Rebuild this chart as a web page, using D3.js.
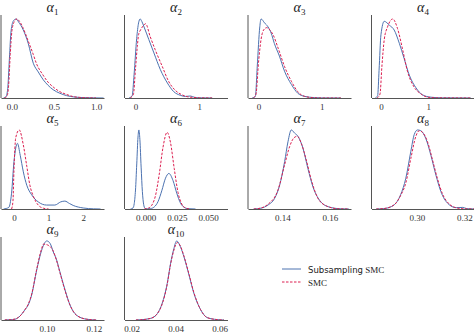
<!DOCTYPE html>
<html><head><meta charset="utf-8">
<script src="https://cdn.jsdelivr.net/npm/d3@7"></script>
<style>body{margin:0;background:#fff}svg{display:block}.serif{font-family:"Liberation Serif","DejaVu Serif",serif}</style>
</head><body><svg id="c" width="474" height="334"></svg>
<script>
// ---- data ----
const panelIndex = [1,2,3,4,5,6,7,8,9,10];
const xDomains = [[-0.13,1.095],[-0.17,1.44],[-0.166,1.46],[-0.2,1.98],[-0.375,2.6],[-0.0168,0.0656],[0.1256,0.1689],[0.281,0.3242],[0.0804,0.1243],[0.0168,0.0636]];
const tickValues = [[0,0.5,1.0],[0,1],[0,1],[0,1],[0,1,2],[0,0.025,0.05],[0.14,0.16],[0.30,0.32],[0.10,0.12],[0.02,0.04,0.06]];
const tickFormats = [".1f","d","d","d","d",".3f",".2f",".2f",".2f",".2f"];
const seriesNames = ["Subsampling SMC","SMC"];

const sub1 = [[-0.10,0],[-0.07,0.02],[-0.05,0.12],[-0.03,0.5],[-0.01,0.85],[0.02,0.98],[0.05,1.0],[0.08,0.96],[0.135,0.86],[0.194,0.69],[0.254,0.44],[0.313,0.33],[0.373,0.23],[0.43,0.16],[0.49,0.105],[0.57,0.06],[0.65,0.03],[0.75,0.012],[0.85,0.005],[1.0,0.001],[1.09,0]];
const smc1 = [[-0.09,0],[-0.06,0.02],[-0.04,0.15],[-0.02,0.55],[0.0,0.85],[0.03,0.97],[0.06,1.0],[0.09,0.97],[0.135,0.88],[0.194,0.72],[0.254,0.55],[0.29,0.44],[0.37,0.29],[0.43,0.2],[0.49,0.14],[0.57,0.08],[0.65,0.045],[0.72,0.02],[0.8,0.008],[0.9,0.002],[1.0,0]];
const sub2 = [[-0.1,0],[-0.05,0.03],[-0.02,0.3],[0.02,0.75],[0.05,0.95],[0.075,1.0],[0.1,0.97],[0.135,0.9],[0.21,0.74],[0.29,0.57],[0.39,0.36],[0.5,0.19],[0.6,0.08],[0.7,0.035],[0.78,0.02],[0.86,0.025],[0.92,0.01],[1.0,0.002],[1.2,0]];
const smc2 = [[-0.08,0],[-0.03,0.05],[0.0,0.35],[0.03,0.65],[0.05,0.8],[0.08,0.86],[0.12,0.91],[0.16,0.94],[0.23,0.78],[0.31,0.61],[0.42,0.4],[0.52,0.21],[0.62,0.1],[0.73,0.04],[0.82,0.015],[0.9,0.008],[1.0,0.002],[1.2,0]];
const sub3 = [[-0.1,0],[-0.05,0.02],[-0.02,0.4],[0.02,0.9],[0.04,1.0],[0.095,0.95],[0.15,0.9],[0.2,0.82],[0.25,0.69],[0.33,0.53],[0.41,0.34],[0.52,0.17],[0.62,0.06],[0.73,0.02],[0.88,0.005],[1.0,0.001],[1.3,0]];
const smc3 = [[-0.08,0],[-0.04,0.05],[0.0,0.45],[0.04,0.74],[0.08,0.86],[0.13,0.89],[0.18,0.86],[0.23,0.8],[0.31,0.63],[0.41,0.4],[0.52,0.21],[0.62,0.08],[0.73,0.02],[0.85,0.005],[1.0,0],[1.3,0]];
const sub4 = [[-0.12,0],[-0.07,0.03],[-0.04,0.35],[0.0,0.8],[0.07,0.97],[0.18,0.92],[0.28,0.86],[0.39,0.69],[0.49,0.5],[0.6,0.29],[0.74,0.13],[0.88,0.04],[1.06,0.01],[1.3,0.002],[1.9,0]];
const smc4 = [[-0.08,0],[-0.02,0.05],[0.02,0.4],[0.07,0.74],[0.14,0.9],[0.25,1.0],[0.35,0.88],[0.46,0.61],[0.56,0.34],[0.7,0.14],[0.85,0.05],[0.99,0.01],[1.2,0.002],[1.9,0]];
const sub5 = [[-0.3,0],[-0.15,0.02],[-0.07,0.2],[0.0,0.6],[0.1,0.83],[0.18,0.68],[0.27,0.47],[0.37,0.3],[0.51,0.18],[0.7,0.09],[0.94,0.05],[1.18,0.05],[1.35,0.09],[1.47,0.1],[1.6,0.07],[1.71,0.045],[2.0,0.013],[2.3,0.002],[2.5,0]];
const smc5 = [[-0.07,0],[-0.03,0.1],[0.0,0.5],[0.05,0.9],[0.15,1.0],[0.27,0.81],[0.37,0.54],[0.46,0.3],[0.56,0.16],[0.7,0.05],[0.85,0.01],[1.0,0]];
const sub6 = [[-0.012,0],[-0.010,0.013],[-0.009,0.07],[-0.008,0.24],[-0.007,0.57],[-0.006,0.91],[-0.0053,1.0],[-0.0045,0.88],[-0.0035,0.53],[-0.0025,0.22],[-0.0015,0.06],[-0.0005,0.011],[0.001,0.001],[0.004,0.005],[0.007,0.026],[0.010,0.093],[0.013,0.23],[0.016,0.39],[0.0187,0.45],[0.022,0.36],[0.025,0.2],[0.028,0.074],[0.031,0.02],[0.034,0.004],[0.04,0]];
const smc6 = [[-0.001,0],[0.002,0.009],[0.005,0.047],[0.008,0.17],[0.011,0.44],[0.014,0.78],[0.0173,0.97],[0.020,0.84],[0.023,0.51],[0.026,0.21],[0.029,0.063],[0.032,0.013],[0.035,0]];
const sub7 = [[0.128,0],[0.131,0.01],[0.134,0.05],[0.1368,0.135],[0.1389,0.3],[0.141,0.6],[0.1424,0.85],[0.1438,1.0],[0.1452,0.96],[0.1466,0.92],[0.1487,0.77],[0.1508,0.51],[0.1529,0.28],[0.1557,0.11],[0.1592,0.03],[0.1648,0.002],[0.168,0]];
const smc7 = [[0.128,0],[0.131,0.012],[0.134,0.06],[0.1382,0.24],[0.141,0.56],[0.1431,0.79],[0.1449,0.9],[0.1463,0.92],[0.148,0.83],[0.1501,0.62],[0.1522,0.37],[0.155,0.135],[0.1585,0.04],[0.1634,0.003],[0.168,0]];
const sub8 = [[0.283,0],[0.2862,0.005],[0.2904,0.05],[0.2932,0.18],[0.2954,0.39],[0.2975,0.73],[0.2989,0.94],[0.3003,1.0],[0.3017,0.99],[0.3038,0.89],[0.3059,0.68],[0.308,0.43],[0.3101,0.22],[0.313,0.07],[0.3165,0.017],[0.3193,0.02],[0.321,0.004],[0.324,0]];
const smc8 = [[0.283,0],[0.2862,0.006],[0.2904,0.05],[0.2932,0.17],[0.2954,0.33],[0.2975,0.64],[0.2996,0.92],[0.301,0.99],[0.3024,0.97],[0.3045,0.85],[0.3066,0.62],[0.3087,0.38],[0.3108,0.19],[0.3137,0.06],[0.317,0.012],[0.32,0.002],[0.324,0]];
const sub9 = [[0.082,0],[0.0843,0.003],[0.0864,0.01],[0.0885,0.05],[0.0906,0.13],[0.092,0.19],[0.0935,0.32],[0.0956,0.63],[0.0977,0.88],[0.0999,1.0],[0.1013,0.97],[0.1027,0.86],[0.1041,0.76],[0.1055,0.61],[0.1077,0.38],[0.1098,0.19],[0.1126,0.06],[0.1169,0.01],[0.121,0]];
const smc9 = [[0.082,0],[0.0843,0.004],[0.0864,0.012],[0.0885,0.05],[0.0906,0.13],[0.092,0.2],[0.0935,0.33],[0.0956,0.64],[0.0977,0.9],[0.0985,0.96],[0.1002,0.95],[0.1013,0.93],[0.1027,0.87],[0.1041,0.75],[0.1055,0.6],[0.1077,0.37],[0.1098,0.19],[0.1126,0.06],[0.1169,0.01],[0.121,0]];
const sub10 = [[0.022,0],[0.0241,0.003],[0.0286,0.02],[0.0317,0.08],[0.0339,0.21],[0.0362,0.46],[0.0377,0.71],[0.0392,0.9],[0.0405,1.0],[0.0423,0.92],[0.0438,0.8],[0.0461,0.57],[0.0483,0.34],[0.0514,0.13],[0.0544,0.03],[0.0589,0.005],[0.062,0]];
const smc10 = [[0.022,0],[0.0241,0.003],[0.0286,0.02],[0.0317,0.08],[0.0339,0.2],[0.0362,0.45],[0.0377,0.7],[0.0392,0.88],[0.0408,0.98],[0.0423,0.93],[0.0438,0.81],[0.0461,0.58],[0.0483,0.35],[0.0514,0.13],[0.0544,0.03],[0.0589,0.005],[0.062,0]];

const subSeries = [sub1,sub2,sub3,sub4,sub5,sub6,sub7,sub8,sub9,sub10];
const smcSeries = [smc1,smc2,smc3,smc4,smc5,smc6,smc7,smc8,smc9,smc10];

// ---- layout / style ----
const colLeft = 1, colStep = 123.5, pw = 103;
const rowTop = 15, rowStep = 111, ph = 83;
const blue = "#4c72b0", red = "#dc1e50";
const svg = d3.select("#c");

panelIndex.forEach((n, i) => {
  const col = i % 4, row = Math.floor(i / 4);
  const x0 = colLeft + col * colStep, y0 = rowTop + row * rowStep;
  const g = svg.append("g").attr("transform", `translate(${x0},${y0})`);
  const x = d3.scaleLinear().domain(xDomains[i]).range([0, pw]);
  const ymax = d3.max(subSeries[i].concat(smcSeries[i]), d => d[1]) * 1.05;
  const y = d3.scaleLinear().domain([0, ymax]).range([ph, 0]);

  const clip = "clip" + n;
  g.append("clipPath").attr("id", clip).append("rect").attr("x", 0).attr("y", -2).attr("width", pw).attr("height", ph + 2);

  const line = d3.line().x(d => x(d[0])).y(d => y(d[1])).curve(d3.curveMonotoneX);
  const plot = g.append("g").attr("clip-path", `url(#${clip})`);
  plot.append("path").attr("d", line(subSeries[i])).attr("fill", "none")
    .attr("stroke", blue).attr("stroke-width", 1);
  plot.append("path").attr("d", line(smcSeries[i])).attr("fill", "none")
    .attr("stroke", red).attr("stroke-width", 1).attr("stroke-dasharray", "2.5,1.5");

  const ax = d3.axisBottom(x).tickValues(tickValues[i]).tickSize(0).tickPadding(6)
    .tickFormat(d3.format(tickFormats[i]));
  const axg = g.append("g").attr("transform", `translate(0,${ph})`).call(ax);
  axg.attr("font-family", null);
  axg.select(".domain").attr("stroke", "#555").attr("stroke-width", 1);
  axg.selectAll("text").attr("class", "serif").attr("font-size", 9).attr("fill", "#333");
  g.append("line").attr("x1", 0).attr("x2", 0).attr("y1", 0).attr("y2", ph)
    .attr("stroke", "#555").attr("stroke-width", 1);

  const t = g.append("text").attr("class", "serif").attr("x", pw / 2).attr("y", -3)
    .attr("text-anchor", "middle").attr("fill", "#222");
  t.append("tspan").attr("font-style", "italic").attr("font-size", 14).text("α");
  t.append("tspan").attr("font-size", 9).attr("dy", 3).text(n);
});

// legend
const lg = svg.append("g").attr("transform", "translate(282,269)");
lg.append("line").attr("x1", 0).attr("x2", 19).attr("y1", 0).attr("y2", 0).attr("stroke", blue).attr("stroke-width", 1);
lg.append("line").attr("x1", 0).attr("x2", 19).attr("y1", 13).attr("y2", 13).attr("stroke", red).attr("stroke-width", 1).attr("stroke-dasharray", "2.5,1.5");
const lt1 = lg.append("text").attr("x", 26).attr("y", 3.5).attr("font-size", 9).attr("fill", "#222");
lt1.append("tspan").style("font-family", "'DejaVu Sans','Open Sans',sans-serif").attr("font-size", 8.5).text("Subsampling");
lt1.append("tspan").attr("class", "serif").text(" SMC");
lg.append("text").attr("class", "serif").attr("x", 26).attr("y", 16.5).attr("font-size", 9).attr("fill", "#222").text(seriesNames[1]);
</script></body></html>
